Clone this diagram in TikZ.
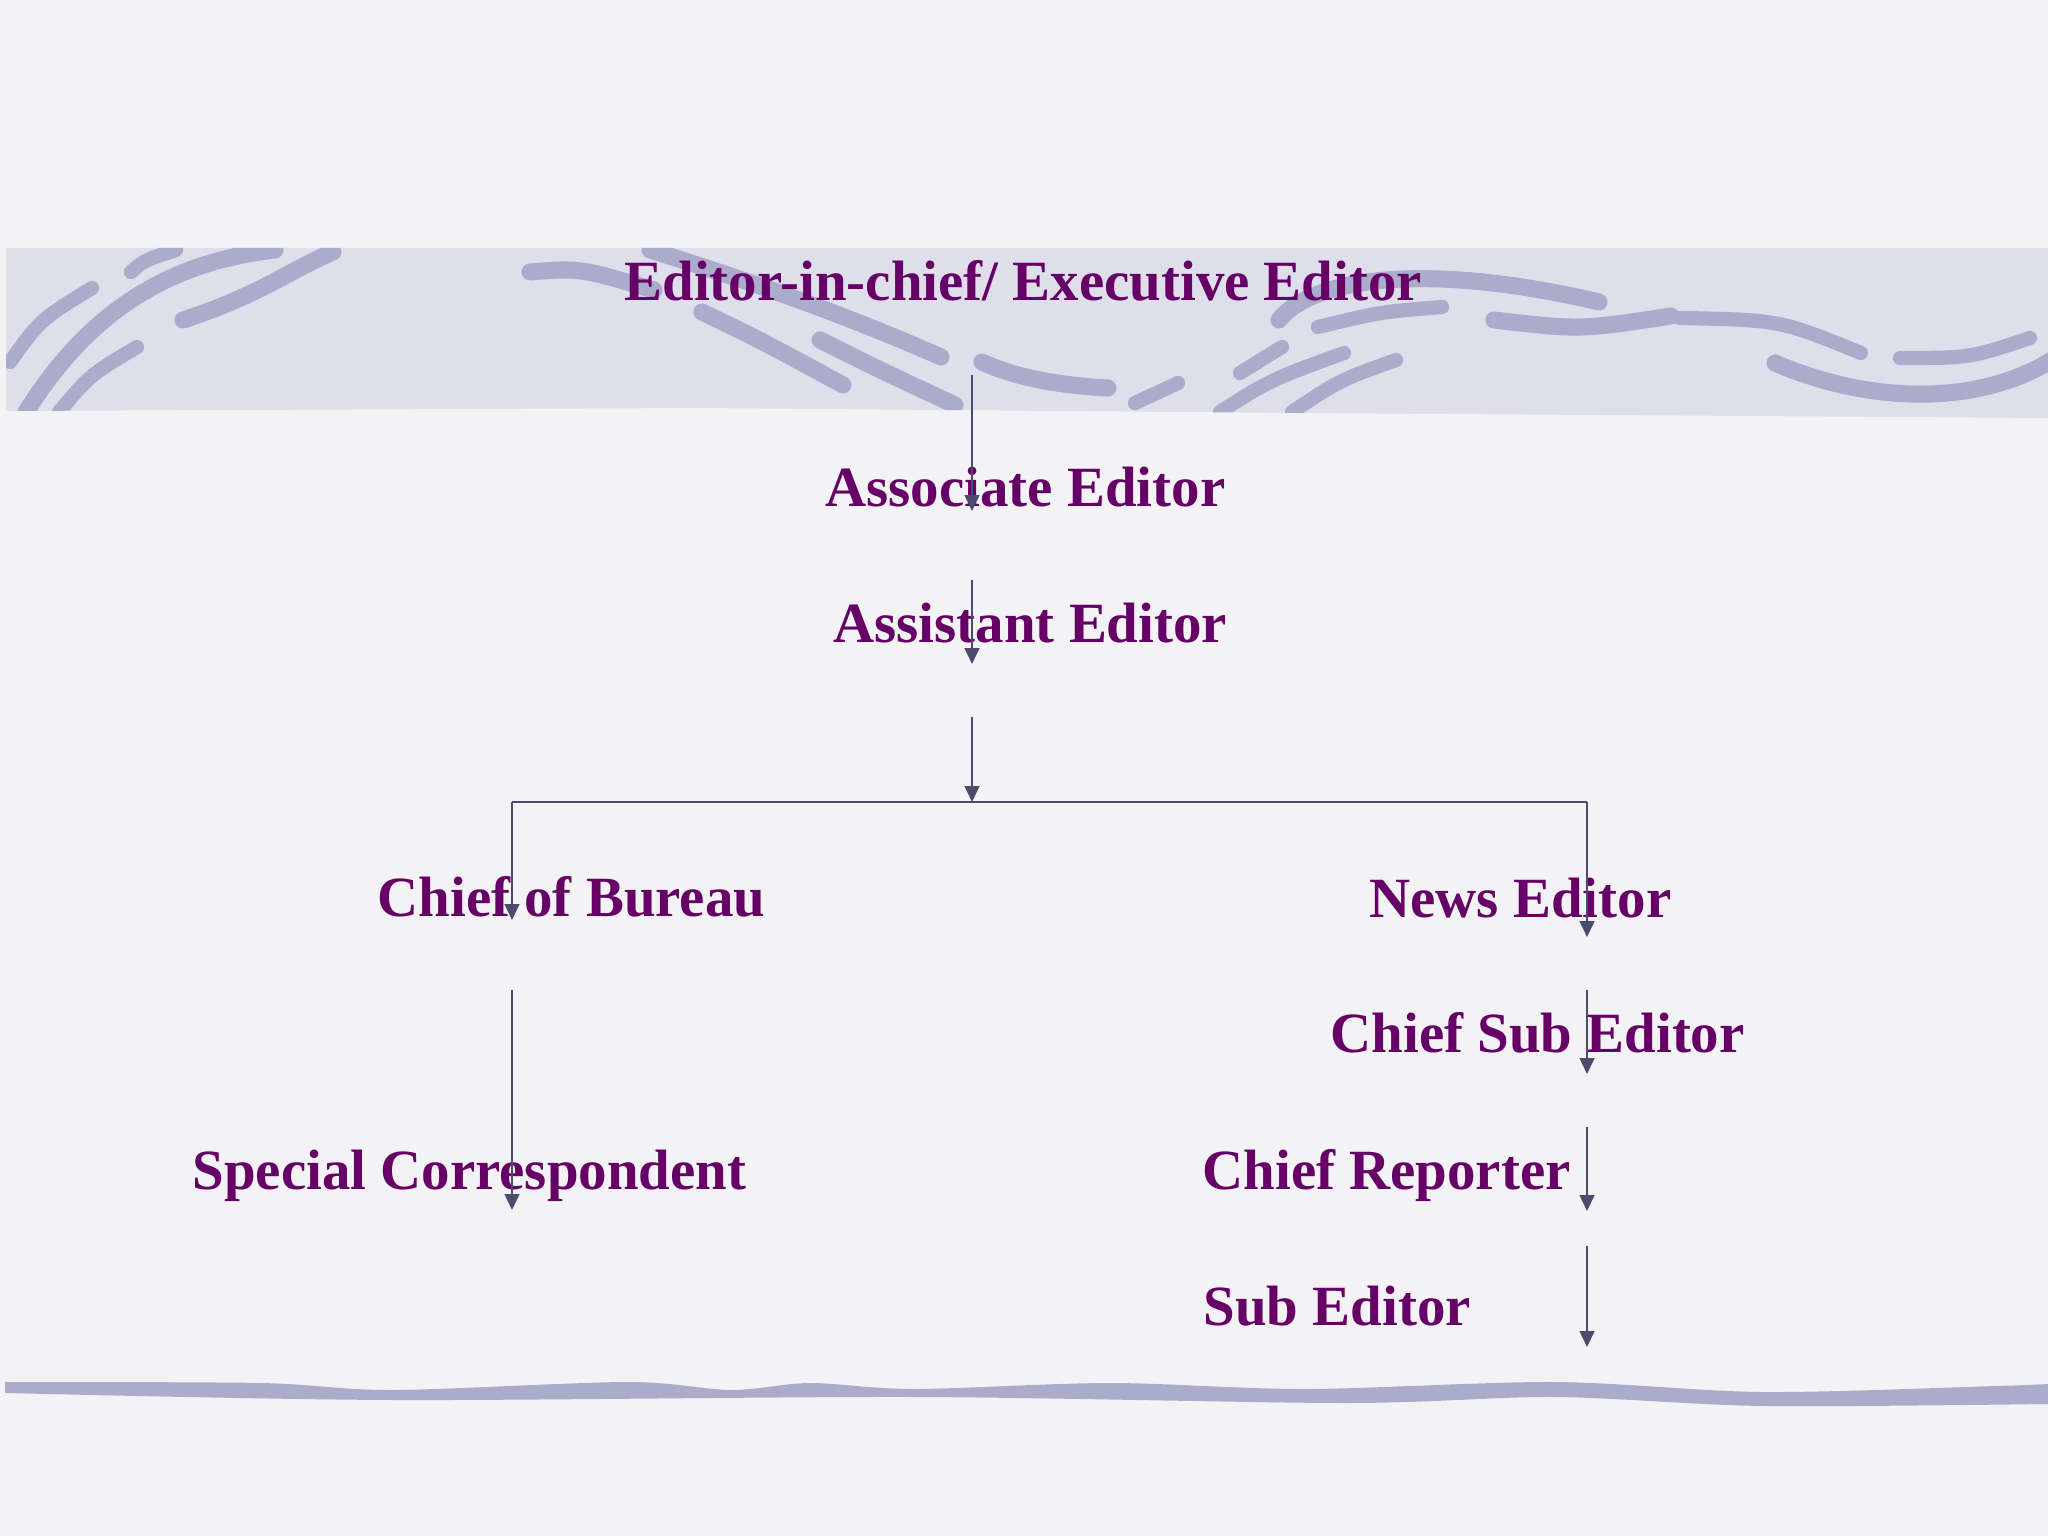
\documentclass[tikz,border=0pt]{standalone}
\usepackage{fontspec}
\setmainfont{Liberation Serif}
\usetikzlibrary{arrows.meta}
\definecolor{bgc}{HTML}{F3F3F5}
\definecolor{bandc}{HTML}{DFDFEC}
\definecolor{brushc}{HTML}{ABABCB}
\definecolor{txt}{HTML}{660066}
\definecolor{arr}{HTML}{4B4B6B}
\tikzset{
  lbl/.style={anchor=base west, inner sep=0pt, text=txt, font=\fontsize{20}{24}\selectfont\bfseries},
  conn/.style={draw=arr, line width=0.7pt, -{Triangle[length=5.6pt,width=5.2pt]}},
  joinline/.style={draw=arr, line width=0.7pt},
  brush/.style={draw=brushc, line width=5pt, line cap=round},
  brushw/.style={draw=brushc, line width=6pt, line cap=round},
}
\begin{document}
\begin{tikzpicture}[x=0.3515625pt,y=-0.3515625pt]
\fill[bgc] (0,0) rectangle (2048,1536);
\useasboundingbox (0,0) rectangle (2048,1536);
% top band
\fill[bandc] (6,248) -- (2048,248) -- (2048,418) -- (1300,413) -- (700,408) -- (6,411) -- cycle;
\begin{scope}
\clip (6,248) -- (2048,248) -- (2048,418) -- (1300,413) -- (700,408) -- (6,411) -- cycle;
\draw[brush] (131,272) .. controls (145,260) .. (176,250);
\draw[brushw] (183,320) .. controls (260,295) and (290,270) .. (333,252);
\draw[brush] (10,362) .. controls (40,320) .. (92,288);
\draw[brushw] (26,412) .. controls (90,310) and (170,262) .. (275,250);
\draw[brush] (59,412) .. controls (90,375) .. (137,347);
\draw[brushw] (530,272) .. controls (580,268) .. (654,290);
\draw[brushw] (650,250) .. controls (780,290) and (880,330) .. (941,357);
\draw[brushw] (702,312) .. controls (760,340) .. (843,385);
\draw[brushw] (820,340) .. controls (880,370) .. (955,405);
\draw[brushw] (982,362) .. controls (1010,375) and (1050,385) .. (1108,388);
\draw[brush] (1135,403) -- (1178,383);
\draw[brush] (1220,412) .. controls (1270,380) .. (1344,353);
\draw[brush] (1292,412) .. controls (1340,380) .. (1396,360);
\draw[brush] (1240,373) -- (1282,347);
\draw[brushw] (1279,320) .. controls (1310,280) and (1420,260) .. (1599,302);
\draw[brush] (1318,327) .. controls (1380,312) .. (1442,307);
\draw[brushw] (1494,320) .. controls (1580,330) .. (1671,316);
\draw[brush] (1680,318) .. controls (1780,320) .. (1861,353);
\draw[brush] (1900,358) .. controls (1970,358) .. (2030,338);
\draw[brushw] (1775,363) .. controls (1860,400) and (1970,410) .. (2052,360);
\end{scope}
% bottom wavy line
\fill[brushc] plot[smooth] coordinates {(5,1382) (261,1383) (392,1390) (627,1382) (731,1390) (810,1383) (914,1389) (1110,1383) (1306,1389) (1554,1382) (1763,1392) (1997,1386) (2048,1384)}
  -- plot[smooth] coordinates {(2048,1404) (1763,1406) (1554,1397) (1345,1403) (914,1397) (392,1400) (5,1393)} -- cycle;
% labels
\node[lbl] (eic) at (624,301) {Editor-in-chief/ Executive Editor};
\node[lbl] (assoc) at (825,507) {Associate Editor};
\node[lbl] (assist) at (833,643) {Assistant Editor};
\node[lbl] (cob) at (377,916) {Chief of Bureau};
\node[lbl] (spc) at (192,1189) {Special Correspondent};
\node[lbl] (news) at (1369,917) {News Editor};
\node[lbl] (csub) at (1330,1052) {Chief Sub Editor};
\node[lbl] (crep) at (1202,1189) {Chief Reporter};
\node[lbl] (sub) at (1203,1325) {Sub Editor};
% connector points
\coordinate (a1s) at (972,375);
\coordinate (a1e) at (972,511);
\coordinate (a2s) at (972,580);
\coordinate (a2e) at (972,664);
\coordinate (a3s) at (972,717);
\coordinate (hub) at (972,802);
\coordinate (hl) at (512,802);
\coordinate (hr) at (1587,802);
\coordinate (cobe) at (512,920);
\coordinate (newse) at (1587,937);
\coordinate (l2s) at (512,990);
\coordinate (l2e) at (512,1210);
\coordinate (r1s) at (1587,990);
\coordinate (r1e) at (1587,1074);
\coordinate (r2s) at (1587,1127);
\coordinate (r2e) at (1587,1211);
\coordinate (r3s) at (1587,1246);
\coordinate (r3e) at (1587,1347);
% connectors
\draw[conn] (a1s) -- (a1e);
\draw[conn] (a2s) -- (a2e);
\draw[conn] (a3s) -- (hub);
\draw[joinline] (hl) -- (hr);
\draw[conn] (hl) -- (cobe);
\draw[conn] (hr) -- (newse);
\draw[conn] (l2s) -- (l2e);
\draw[conn] (r1s) -- (r1e);
\draw[conn] (r2s) -- (r2e);
\draw[conn] (r3s) -- (r3e);
\end{tikzpicture}
\end{document}
